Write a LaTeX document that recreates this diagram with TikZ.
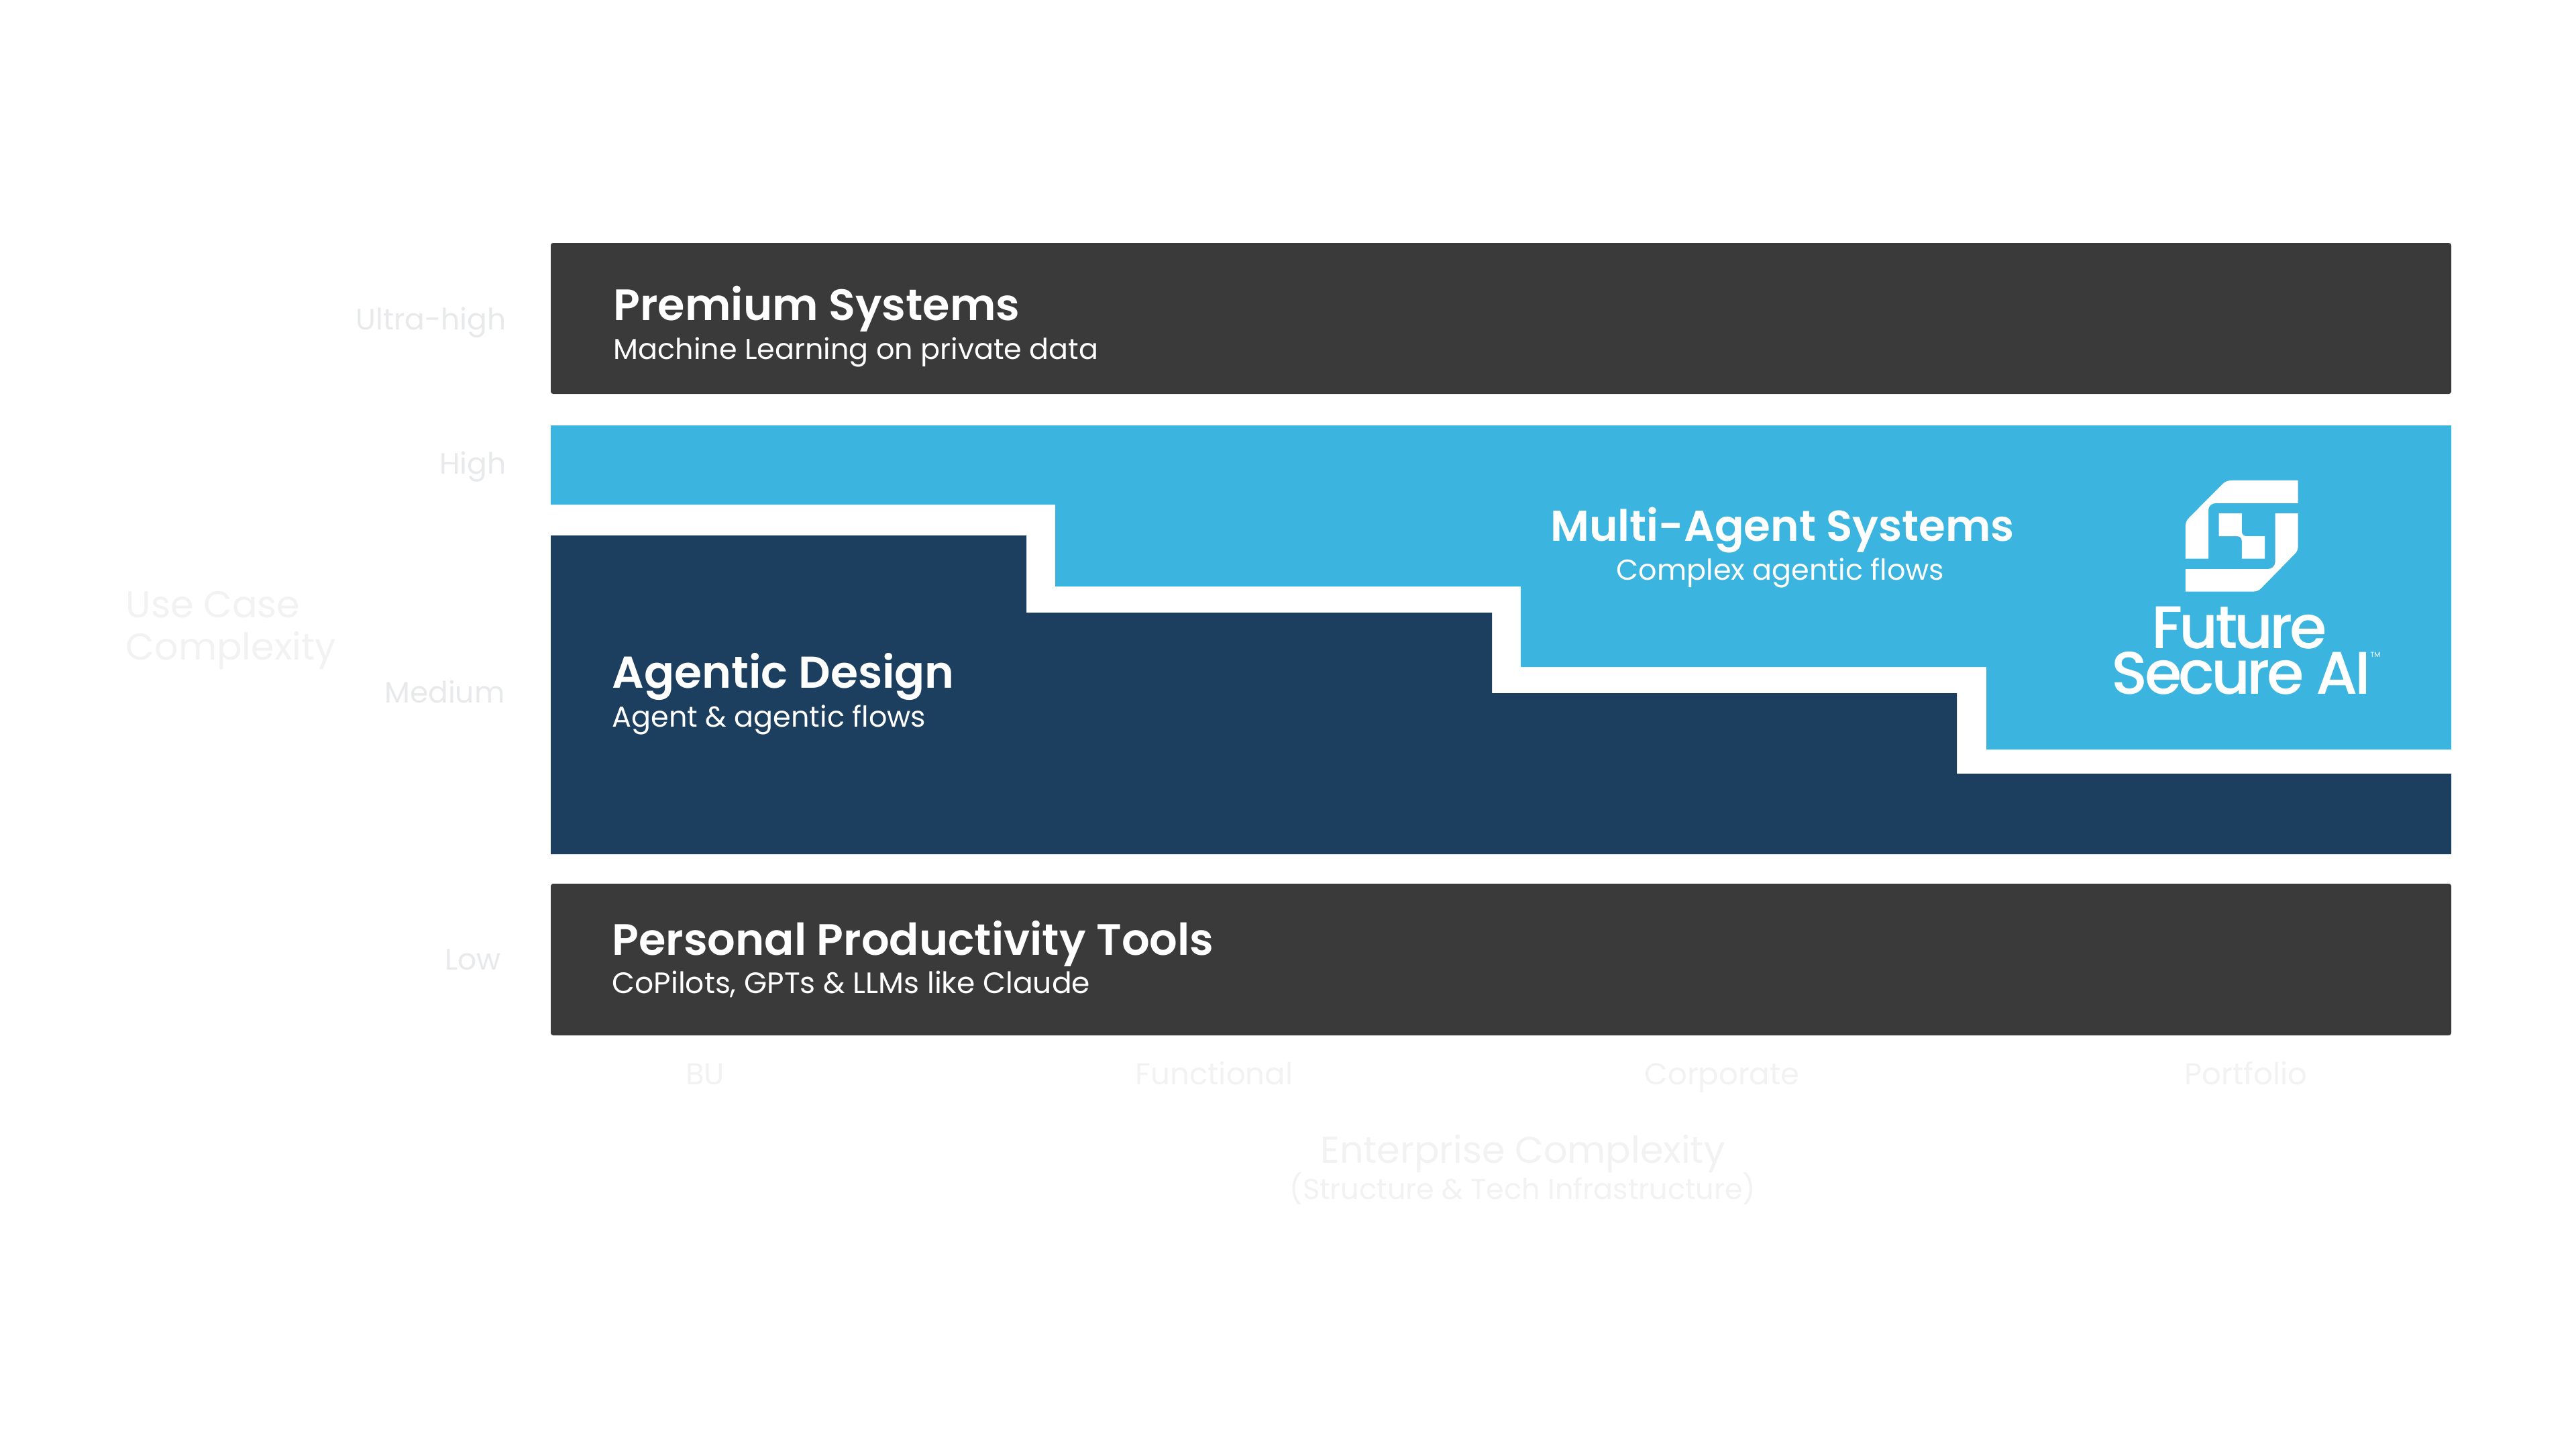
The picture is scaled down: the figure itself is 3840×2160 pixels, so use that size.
\documentclass[tikz,border=0pt]{standalone}
\usepackage{fontspec}
\setmainfont{Poppins}[BoldFont={Poppins SemiBold}]
\newfontfamily\logofont{Poppins Medium}[LetterSpace=-5.5]
\definecolor{slate}{HTML}{3A3A3A}
\definecolor{sky}{HTML}{3BB5E0}
\definecolor{navy}{HTML}{1C3F60}
\definecolor{ghost}{HTML}{E8E9EB}
\definecolor{ghostb}{HTML}{F2F2F3}
\newcommand{\fs}[1]{\fontsize{#1}{#1}\selectfont}
\tikzset{
  x=0.01cm,y=-0.01cm,
  band/.style={draw=none,rounded corners=1pt},
  ttl/.style={text=white,font=\fs{18.6}\bfseries,inner sep=0,anchor=base west},
  sub/.style={text=white,font=\fs{12.2},inner sep=0,anchor=base west},
  lvl/.style={text=ghost,font=\fs{12.5},inner sep=0,anchor=base east},
  axl/.style={text=ghostb,font=\fs{12.8},inner sep=0,anchor=base},
  axt/.style={text=ghostb,font=\fs{15.8},inner sep=0},
}
\begin{document}
\begin{tikzpicture}
\useasboundingbox (0,0) rectangle (3840,2160);
\fill[white] (0,0) rectangle (3840,2160);
\fill[slate,band] (821,362) rectangle (3654,587);
\fill[slate,band] (821,1317) rectangle (3654,1543);
\fill[sky] (821,634) -- (3654,634) -- (3654,1117) -- (2961,1117) -- (2961,994) -- (2267,994) -- (2267,874) -- (1573,874) -- (1573,752) -- (821,752) -- cycle;
\fill[navy] (821,798) -- (1530,798) -- (1530,913) -- (2224,913) -- (2224,1033) -- (2917,1033) -- (2917,1153) -- (3654,1153) -- (3654,1273) -- (821,1273) -- cycle;
\node[ttl] (t1) at (914,477) {Premium Systems};
\node[sub] (s1) at (914,535) {Machine Learning on private data};
\node[ttl,anchor=base,font=\fs{18.3}\bfseries] (t2) at (2657,806) {Multi-Agent Systems};
\node[sub,anchor=base] (s2) at (2654,864) {Complex agentic flows};
\node[ttl,font=\fs{18.9}\bfseries] (t3) at (912,1025) {Agentic Design};
\node[sub] (s3) at (912,1083) {Agent \& agentic flows};
\node[ttl] (t4) at (912,1423) {Personal Productivity Tools};
\node[sub,font=\fs{12.5}] (s4) at (912,1480) {CoPilots, GPTs \& LLMs like Claude};
\node[lvl] (l1) at (755,491) {Ultra-high};
\node[lvl] (l2) at (755,706) {High};
\node[lvl] (l3) at (753,1047) {Medium};
\node[lvl] (l4) at (747,1445) {Low};
\node[axt,anchor=base west] (u1) at (187,920) {Use Case};
\node[axt,anchor=base west] (u2) at (187,983) {Complexity};
\node[axl] (b1) at (1051,1616) {BU};
\node[axl] (b2) at (1810,1616) {Functional};
\node[axl] (b3) at (2567,1616) {Corporate};
\node[axl] (b4) at (3348,1616) {Portfolio};
\node[axt,anchor=base] (e1) at (2270,1733) {Enterprise Complexity};
\node[axl,font=\fs{12.2}] (e2) at (2270,1787) {(Structure \& Tech Infrastructure)};
% logo drawn in zoom-crop coordinates
\begin{scope}[shift={(3100,660)},x=0.0036cm,y=-0.00333cm]
\fill[white] (904,168) -- (635,168) .. controls (615,168) and (603,172) .. (592,184) -- (455,333) .. controls (443,346) and (438,358) .. (438,375) -- (438,519) -- (533,519) -- (533,300) .. controls (533,282) and (547,270) .. (565,270) -- (904,270) -- cycle;
\fill[white] (438,666) -- (715,666) .. controls (730,666) and (742,662) .. (752,650) -- (888,500) .. controls (900,488) and (904,476) .. (904,460) -- (904,316) -- (809,316) -- (809,535) .. controls (809,552) and (795,565) .. (778,565) -- (438,565) -- cycle;
\fill[white] (576,316) -- (671,316) -- (671,398) .. controls (671,410) and (680,418) .. (690,418) -- (766,418) -- (766,519) -- (671,519) -- (671,438) .. controls (671,426) and (662,418) .. (652,418) -- (576,418) -- cycle;
\end{scope}
\node[text=white,font=\logofont\fs{25.5},inner sep=0,anchor=base] (f1) at (3338,966) {Future};
\node[text=white,font=\logofont\fs{25.5},inner sep=0,anchor=base] (f2) at (3341,1034) {Secure AI};
\node[text=white,font=\fs{3},inner sep=0,anchor=base] (f3) at (3541,979) {TM};
\end{tikzpicture}
\end{document}
